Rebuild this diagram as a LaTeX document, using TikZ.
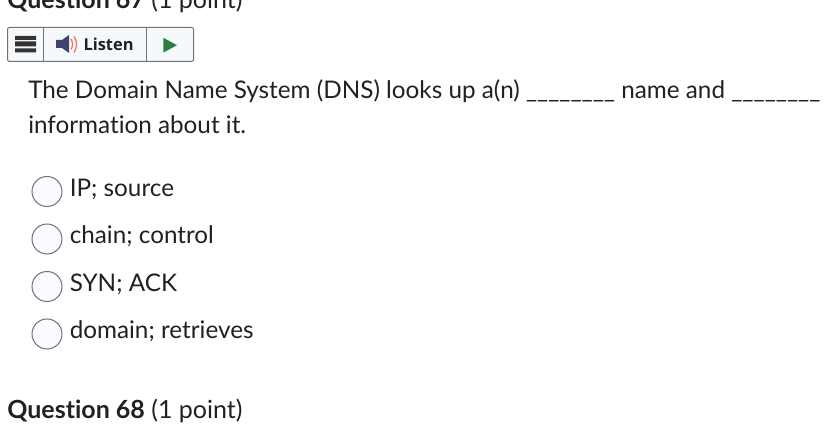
\documentclass[tikz,border=0pt]{standalone}
\usepackage{fontspec}
\setmainfont[Ligatures=NoCommon]{Lato}
\newfontfamily\listenfont{Open Sans}
\definecolor{ink}{HTML}{202122}
\definecolor{edge}{HTML}{6E7376}
\definecolor{panel}{HTML}{F5F9FC}
\definecolor{radiofill}{HTML}{FAFBFF}
\definecolor{speaker}{HTML}{3D4470}
\definecolor{waves}{HTML}{F0705A}
\definecolor{playgreen}{HTML}{2B7D44}
\tikzset{
  px/.style={x=0.75pt,y=-0.75pt},
  body/.style={anchor=base west,inner sep=0,text=ink,font=\fontsize{18.2pt}{18.2pt}\selectfont},
  head/.style={anchor=base west,inner sep=0,text=ink,font=\fontsize{18.75pt}{18.75pt}\selectfont},
  radio/.style={circle,draw=edge,fill=radiofill,line width=0.75pt,minimum size=22.5pt,inner sep=0},
}
\begin{document}
\begin{tikzpicture}[px]
\useasboundingbox (0,0) rectangle (836,424);
\clip (0,0) rectangle (836,424);
\fill[white] (0,0) rectangle (836,424);
\node[head] (q67) at (7,9) {\textbf{Question 67} (1 point)};
\draw[edge,fill=panel,line width=0.75pt,rounded corners=1.5pt] (7.5,27.5) rectangle (193.5,61.5);
\coordinate (d1t) at (43.5,27.5); \coordinate (d1b) at (43.5,61.5);
\coordinate (d2t) at (146.5,27.5); \coordinate (d2b) at (146.5,61.5);
\draw[edge,line width=0.75pt] (d1t) -- (d1b) (d2t) -- (d2b);
\fill[black!80] (15,36) rectangle (36,40) (15,41.5) rectangle (36,46.5) (15,48.5) rectangle (36,52.5);
\fill[speaker] (56,40) -- (62,40) -- (69,35) -- (69,53) -- (62,48) -- (56,48) -- cycle;
\draw[waves,line width=0.9pt] (71,39) .. controls (73,42.5) and (73,46) .. (71,49.5);
\draw[waves,line width=0.9pt] (74,36.5) .. controls (77.5,42) and (77.5,47) .. (74,52.5);
\node[anchor=base west,inner sep=0,text=ink,font=\listenfont\bfseries\fontsize{12.3pt}{12.3pt}\selectfont] (listen) at (83.3,50.7) {Listen};
\fill[playgreen] (163.3,37.8) -- (177,45.2) -- (163.3,52.6) -- cycle;
\node[body] (l1) at (28,99) {The Domain Name System (DNS) looks up a(n) \_\_\_\_\_\_\_\_ name and \_\_\_\_\_\_\_\_};
\node[body] (l2) at (28,134) {information about it.};
\node[radio] (r1) at (47,191.5) {};
\node[radio] (r2) at (47,239) {};
\node[radio] (r3) at (47,286.5) {};
\node[radio] (r4) at (47,334) {};
\node[body] (a1) at (69.5,197) {IP; source};
\node[body] (a2) at (69.5,244) {chain; control};
\node[body] (a3) at (69.5,291.3) {SYN; ACK};
\node[body] (a4) at (69.5,338.5) {domain; retrieves};
\node[head] (q68) at (7,418) {\textbf{Question 68} (1 point)};
\end{tikzpicture}
\end{document}
